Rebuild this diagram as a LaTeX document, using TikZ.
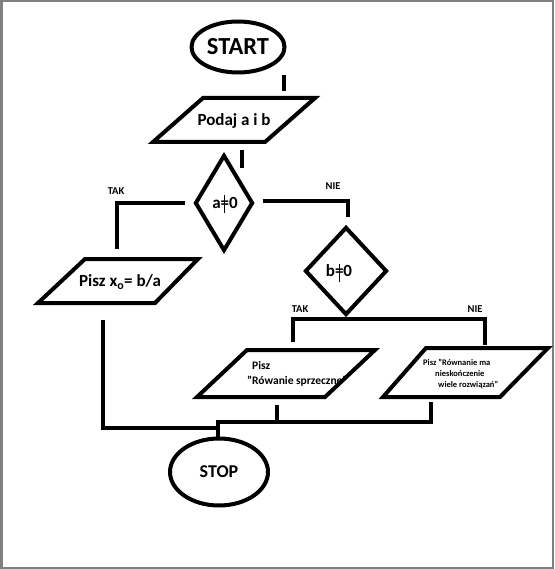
\documentclass[tikz,border=0pt]{standalone}
\usepackage{fontspec}
\setmainfont{Carlito}
\usetikzlibrary{shapes.geometric}
\newcommand{\neqbar}{\ooalign{=\cr\hidewidth\rule[-0.3em]{0.06em}{1.05em}\hidewidth\cr}}
\tikzset{
  flow/.style={line width=4pt},
  term/.style={draw,ellipse,flow,inner sep=0pt},
  decision/.style={draw,diamond,flow,inner sep=0pt},
  txt/.style={font=\bfseries\fontsize{17}{17}\selectfont,inner sep=0pt},
  branch/.style={font=\bfseries\fontsize{10.5}{10.5}\selectfont,inner sep=0pt},
}
\begin{document}
\begin{tikzpicture}[x=1pt,y=-1pt]
  \useasboundingbox (0,0) rectangle (554,569);
  \draw[black!50,line width=2.5pt] (1.25,1.25) rectangle (552.75,567.75);
  % terminals
  \node[term,minimum width=93pt,minimum height=51pt,font=\bfseries\fontsize{24.5}{24.5}\selectfont] (start) at (238,47) {START};
  \node[term,minimum width=98pt,minimum height=67pt,font=\bfseries\fontsize{18}{18}\selectfont] (stop) at (219,472) {STOP};
  % input / output
  \draw[flow] (203,98) -- (315,98) -- (265,142) -- (153,142) -- cycle;
  \node[txt] (in) at (234,121) {Podaj a i b};
  \draw[flow] (85,259) -- (198,259) -- (155,303) -- (38,303) -- cycle;
  \node[txt] (outx) at (120,282) {Pisz x\textsubscript{o}= b/a};
  \draw[flow] (247,350) -- (375,350) -- (325,397) -- (197,397) -- cycle;
  \node[anchor=west,align=left,inner sep=0pt,font=\bfseries\fontsize{11.5}{15}\selectfont] (outc) at (247,374)
    {\hspace{5pt}Pisz\\"Rówanie sprzeczne"};
  \draw[flow] (426,348) -- (548,348) -- (500,397) -- (383,397) -- cycle;
  \node[anchor=west,align=left,inner sep=0pt,font=\bfseries\fontsize{8.5}{11}\selectfont] (outn) at (423,374)
    {Pisz "Równanie ma\\\hspace{12pt}nieskończenie\\\hspace{15pt}wiele rozwiązań"};
  % decisions
  \node[decision,minimum width=58pt,minimum height=96pt] (d1) at (224,203) {};
  \node[txt] (d1txt) at (225,205) {a\neqbar0};
  \node[decision,minimum width=82pt,minimum height=88pt] (d2) at (346,271) {};
  \node[txt] (d2txt) at (339,273) {b\neqbar0};
  % connectors
  \coordinate (s1) at (284,75);  \coordinate (s2) at (284,91);
  \coordinate (i1) at (242,150); \coordinate (i2) at (242,168);
  \draw[flow] (s1) -- (s2);
  \draw[flow] (i1) -- (i2);
  \draw[flow] (185,203) -- (117,203) -- (117,249);
  \draw[flow] (263,201) -- (348,201) -- (348,217);
  \draw[flow] (293,342) -- (293,319) -- (485,319) -- (485,345);
  \draw[flow] (103,320) -- (103,428) -- (220,428);
  \draw[flow] (277,405) -- (277,422);
  \draw[flow] (431,402) -- (431,422) -- (218,422) -- (218,438);
  % branch labels
  \node[branch] (tak1) at (116,191) {TAK};
  \node[branch] (nie1) at (333,186) {NIE};
  \node[branch] (tak2) at (300,309) {TAK};
  \node[branch] (nie2) at (475,309) {NIE};
\end{tikzpicture}
\end{document}
